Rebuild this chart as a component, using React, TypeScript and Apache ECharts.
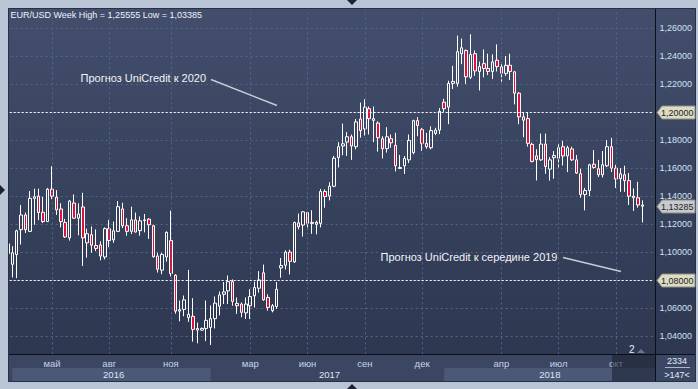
import React, { useEffect, useRef } from 'react';
import * as echarts from 'echarts';

// Weekly EUR/USD candles (open, close, low, high)
const OPEN = [
  1.0990, 1.0914, 1.0984, 1.1161, 1.1266, 1.1149, 1.1384, 1.1400, 1.1285, 1.1219,
  1.1450, 1.1393, 1.1309, 1.1212, 1.1102, 1.1351, 1.1243, 1.1323, 1.1067, 1.1125,
  1.1048, 1.1052, 1.0966, 1.1168, 1.1088, 1.1149, 1.1309, 1.1189, 1.1149, 1.1231,
  1.1154, 1.1226, 1.1236, 1.1189, 1.0973, 1.0872, 1.0966, 1.1083, 1.0836, 1.0580,
  1.0592, 1.0533, 1.0543, 1.0444, 1.0444, 1.0456, 1.0463, 1.0526, 1.0615, 1.0700,
  1.0724, 1.0790, 1.0635, 1.0630, 1.0567, 1.0618, 1.0689, 1.0743, 1.0853, 1.0677,
  1.0583, 1.0613, 1.0888, 1.0907, 1.1001, 1.0931, 1.1210, 1.1194, 1.1283, 1.1206,
  1.1213, 1.1206, 1.1434, 1.1401, 1.1471, 1.1676, 1.1758, 1.1786, 1.1824, 1.1753,
  1.1951, 1.1880, 1.2024, 1.1941, 1.1922, 1.1810, 1.1739, 1.1810, 1.1763, 1.1598,
  1.1617, 1.1659, 1.1711, 1.1939, 1.1875, 1.1777, 1.1746, 1.1848, 1.1872, 1.2071,
  1.2036, 1.2205, 1.2205, 1.2417, 1.2440, 1.2248, 1.2417, 1.2290, 1.2346, 1.2311,
  1.2290, 1.2370, 1.2323, 1.2276, 1.2334, 1.2287, 1.2135, 1.1966, 1.1954, 1.1770,
  1.1688, 1.1659, 1.1772, 1.1593, 1.1675, 1.1671, 1.1753, 1.1687, 1.1737, 1.1659,
  1.1560, 1.1412, 1.1440, 1.1628, 1.1596, 1.1553, 1.1617, 1.1753, 1.1600, 1.1525,
  1.1553, 1.1511, 1.1400, 1.1389, 1.1337,
];
const CLOSE = [
  1.1060, 1.0996, 1.1153, 1.1266, 1.1161, 1.1384, 1.1396, 1.1283, 1.1219, 1.1450,
  1.1400, 1.1302, 1.1219, 1.1109, 1.1365, 1.1243, 1.1273, 1.1102, 1.1132, 1.1050,
  1.1027, 1.0973, 1.1168, 1.1083, 1.1153, 1.1325, 1.1189, 1.1149, 1.1231, 1.1144,
  1.1224, 1.1231, 1.1196, 1.0968, 1.0879, 1.0984, 1.1142, 1.0848, 1.0580, 1.0590,
  1.0660, 1.0557, 1.0449, 1.0456, 1.0456, 1.0514, 1.0526, 1.0637, 1.0695, 1.0717,
  1.0790, 1.0649, 1.0618, 1.0571, 1.0630, 1.0684, 1.0748, 1.0802, 1.0660, 1.0606,
  1.0618, 1.0736, 1.0905, 1.1001, 1.0935, 1.1213, 1.1182, 1.1288, 1.1206, 1.1213,
  1.1199, 1.1434, 1.1398, 1.1471, 1.1671, 1.1753, 1.1774, 1.1824, 1.1758, 1.1930,
  1.1868, 1.2035, 1.1953, 1.1953, 1.1817, 1.1739, 1.1824, 1.1781, 1.1617, 1.1605,
  1.1669, 1.1798, 1.1939, 1.1904, 1.1777, 1.1753, 1.1868, 1.1872, 1.2006, 1.2024,
  1.2205, 1.2219, 1.2431, 1.2459, 1.2252, 1.2412, 1.2294, 1.2325, 1.2311, 1.2290,
  1.2358, 1.2325, 1.2278, 1.2334, 1.2290, 1.2135, 1.1966, 1.1942, 1.1777, 1.1648,
  1.1660, 1.1772, 1.1612, 1.1659, 1.1690, 1.1746, 1.1687, 1.1746, 1.1659, 1.1565,
  1.1412, 1.1440, 1.1624, 1.1605, 1.1553, 1.1624, 1.1753, 1.1600, 1.1523, 1.1560,
  1.1511, 1.1400, 1.1389, 1.1337, 1.13285,
];
const LOW = [
  1.0925, 1.0820, 1.0815, 1.1055, 1.1137, 1.1144, 1.1196, 1.1229, 1.1208, 1.1215,
  1.1379, 1.1266, 1.1177, 1.1102, 1.1083, 1.1238, 1.1121, 1.0902, 1.0961, 1.0996,
  1.1008, 1.0942, 1.0949, 1.1036, 1.1067, 1.1144, 1.1172, 1.1118, 1.1130, 1.1142,
  1.1118, 1.1142, 1.1095, 1.0961, 1.0855, 1.0843, 1.0933, 1.0827, 1.0561, 1.0507,
  1.0543, 1.0503, 1.0362, 1.0350, 1.0440, 1.0366, 1.03385, 1.0456, 1.0550, 1.0630,
  1.0630, 1.0618, 1.0560, 1.0536, 1.0524, 1.0524, 1.0606, 1.0712, 1.0653, 1.0583,
  1.0571, 1.0595, 1.0818, 1.0877, 1.0841, 1.0924, 1.1163, 1.1112, 1.1163, 1.1131,
  1.1128, 1.1177, 1.1318, 1.1370, 1.1464, 1.1605, 1.1692, 1.1687, 1.1659, 1.1734,
  1.1817, 1.1833, 1.1840, 1.1786, 1.1718, 1.1669, 1.1711, 1.1746, 1.1577, 1.1593,
  1.1558, 1.1636, 1.1699, 1.1828, 1.1723, 1.1739, 1.1734, 1.1836, 1.1843, 1.2001,
  1.1914, 1.2165, 1.2182, 1.2342, 1.2200, 1.2236, 1.2259, 1.2154, 1.2248, 1.2264,
  1.2236, 1.2290, 1.2217, 1.2259, 1.2229, 1.2055, 1.1914, 1.1820, 1.1754, 1.1641,
  1.1512, 1.1652, 1.1560, 1.1511, 1.1525, 1.1600, 1.1619, 1.1572, 1.1652, 1.1558,
  1.1389, 1.1299, 1.1400, 1.1596, 1.1537, 1.1534, 1.1607, 1.1572, 1.1459, 1.1431,
  1.1431, 1.1337, 1.1295, 1.1318, 1.1213,
];
const HIGH = [
  1.1115, 1.1043, 1.1161, 1.1337, 1.1283, 1.1436, 1.1454, 1.1454, 1.1396, 1.1459,
  1.1614, 1.1443, 1.1349, 1.1238, 1.1372, 1.1412, 1.1349, 1.1424, 1.1168, 1.1184,
  1.1163, 1.1078, 1.1177, 1.1231, 1.1219, 1.1365, 1.1353, 1.1243, 1.1325, 1.1283,
  1.1255, 1.1273, 1.1243, 1.1196, 1.0996, 1.0996, 1.1149, 1.1297, 1.0843, 1.0655,
  1.0691, 1.0874, 1.0672, 1.0498, 1.0463, 1.0655, 1.0620, 1.0684, 1.0719, 1.0787,
  1.0834, 1.0806, 1.0677, 1.0642, 1.0677, 1.0736, 1.0790, 1.0865, 1.0912, 1.0700,
  1.0630, 1.0787, 1.0959, 1.1013, 1.1018, 1.1217, 1.1276, 1.1293, 1.1288, 1.1300,
  1.1225, 1.1452, 1.1448, 1.1500, 1.1687, 1.1786, 1.1918, 1.1857, 1.1840, 1.1951,
  1.2068, 1.2092, 1.2040, 1.2040, 1.1934, 1.1828, 1.1892, 1.1840, 1.1852, 1.1694,
  1.1687, 1.1840, 1.1946, 1.1965, 1.1887, 1.1852, 1.1899, 1.1888, 1.2029, 1.2095,
  1.2224, 1.2330, 1.2546, 1.2525, 1.2447, 1.25555, 1.2440, 1.2360, 1.2447, 1.2417,
  1.2412, 1.2483, 1.2353, 1.2400, 1.2417, 1.2294, 1.2142, 1.2001, 1.2001, 1.1782,
  1.1735, 1.1847, 1.1847, 1.1678, 1.1722, 1.1777, 1.1795, 1.1760, 1.1753, 1.1694,
  1.1596, 1.1459, 1.1631, 1.1729, 1.1659, 1.1722, 1.1800, 1.1816, 1.1624, 1.1600,
  1.1617, 1.1565, 1.1455, 1.1502, 1.1370,
];

const EMPTY_SLOTS = 2; // free weeks on the right of the last candle
const MONTH_TICK_INDEX = [10, 23, 37, 55, 68, 81, 94, 112, 125, 138];
const MONTH_TICK_LABEL = ['май', 'авг', 'ноя', 'мар', 'июн', 'сен', 'дек', 'апр', 'июл', 'окт'];
const YEAR_LABEL_INDEX = [24, 73, 123];
const YEAR_LABEL = ['2016', '2017', '2018'];
const YEAR_BANDS = [[1, 46], [99, -1]];
const TARGET_LEVELS = [1.2, 1.08];
const ANNOTATION_TEXT = ['Прогноз UniCredit к 2020', 'Прогноз UniCredit к середине 2019'];
const FOOTER_TOP = '2334';
const FOOTER_BOTTOM = '>147<';
const PAGE_MARK = '2';

const FONT = '"Liberation Sans", Arial, sans-serif';
const fmt = (v: number) => v.toFixed(5).replace('.', ',');

export default function App() {
  const ref = useRef<HTMLDivElement>(null);
  useEffect(() => {
    if (!ref.current) return;
    const chart = echarts.init(ref.current, undefined, { renderer: 'svg' });
    const N = OPEN.length + EMPTY_SLOTS;
    const BAR = 4.406;
    const gridLeft = 5.7;
    const gridWidth = N * BAR;
    const cats = Array.from({ length: N }, (_, i) => String(i));
    const candles = OPEN.map((o, i) => [o, CLOSE[i], LOW[i], HIGH[i]]);
    const hi = Math.max(...HIGH);
    const lo = Math.min(...LOW);
    const last = CLOSE[CLOSE.length - 1];

    chart.setOption({
      animation: false,
      backgroundColor: '#b9c4d4',
      textStyle: { fontFamily: FONT },
      grid: [
        { left: gridLeft, top: -3.27, width: gridWidth, height: 367.6, show: false },
        { left: gridLeft, top: 348, width: gridWidth, height: 8, show: false },
      ],
      xAxis: [
        { type: 'category', gridIndex: 0, data: cats, show: false, boundaryGap: true },
        {
          type: 'category', gridIndex: 1, data: cats, position: 'bottom', z: 10,
          axisLine: { show: false }, axisTick: { show: false }, splitLine: { show: false },
          axisLabel: {
            interval: (i: number) => MONTH_TICK_INDEX.includes(i),
            formatter: (_v: string, i: number) => MONTH_TICK_LABEL[MONTH_TICK_INDEX.indexOf(i)] ?? '',
            color: '#c6d3ea', fontSize: 9.5, margin: 2, fontFamily: FONT,
          },
        },
        {
          type: 'category', gridIndex: 1, data: cats, position: 'bottom', offset: 11, z: 10,
          axisLine: { show: false }, axisTick: { show: false }, splitLine: { show: false },
          axisLabel: {
            interval: (i: number) => YEAR_LABEL_INDEX.includes(i),
            formatter: (_v: string, i: number) => YEAR_LABEL[YEAR_LABEL_INDEX.indexOf(i)] ?? '',
            color: '#dde6f4', fontSize: 9.5, margin: 2, fontFamily: FONT,
          },
        },
      ],
      yAxis: [
        {
          type: 'value', gridIndex: 0, position: 'right', min: 1.02, max: 1.28, interval: 0.02,
          axisLine: { show: false }, axisTick: { show: false },
          axisLabel: {
            margin: 6, color: '#d4e0f4', fontSize: 9, fontFamily: FONT,
            formatter: (v: number) =>
              v < 1.035 || v > 1.265 || TARGET_LEVELS.some((t) => Math.abs(t - v) < 1e-6) ? '' : fmt(v),
          },
          splitLine: { show: true, lineStyle: { color: '#56648a', type: [2, 3], width: 1 } },
        },
        { type: 'value', gridIndex: 1, show: false },
      ],
      series: [
        {
          type: 'line', xAxisIndex: 0, yAxisIndex: 0, data: [], z: 1, silent: true,
          markLine: {
            silent: true, symbol: ['none', 'none'], label: { show: false },
            lineStyle: { color: '#56648a', type: [2, 3], width: 1 },
            data: MONTH_TICK_INDEX.map((i) => ({ xAxis: i })),
          },
        },
        {
          type: 'candlestick', xAxisIndex: 0, yAxisIndex: 0, data: candles, barWidth: 3, z: 2,
          itemStyle: {
            color: 'rgba(0,0,0,0)', color0: '#e0103a',
            borderColor: '#ffffff', borderColor0: '#ffffff', borderWidth: 1,
          },
          markLine: {
            silent: true, symbol: ['none', 'none'], label: { show: false },
            lineStyle: { color: '#ffffff', type: [2, 2], width: 1 },
            data: TARGET_LEVELS.map((v) => ({ yAxis: v })),
          },
        },
      ],
    });

    const px = (i: number) => chart.convertToPixel({ xAxisIndex: 0 }, i) as number;
    const py = (v: number) => chart.convertToPixel({ yAxisIndex: 0 }, v) as number;
    const FRAME = '#b9c4d4';
    const g: any[] = [];
    g.push({
      type: 'rect', z: -1, silent: true, shape: { x: 8, y: 8, width: 688, height: 347 },
      style: {
        fill: new echarts.graphic.LinearGradient(0, 0, 0, 1, [
          { offset: 0, color: '#424e6c' },
          { offset: 1, color: '#2d3750' },
        ]),
      },
    });
    // frame strips
    g.push({ type: 'rect', z: 5, silent: true, shape: { x: 0, y: 0, width: 8, height: 389 }, style: { fill: FRAME } });
    g.push({ type: 'rect', z: 5, silent: true, shape: { x: 0, y: 0, width: 698, height: 8 }, style: { fill: FRAME } });
    g.push({ type: 'rect', z: 5, silent: true, shape: { x: 696, y: 0, width: 2, height: 389 }, style: { fill: FRAME } });
    g.push({ type: 'rect', z: 5, silent: true, shape: { x: 0, y: 382, width: 698, height: 7 }, style: { fill: FRAME } });
    // bottom panel
    g.push({ type: 'rect', z: 5, silent: true, shape: { x: 8, y: 355, width: 688, height: 27 }, style: { fill: '#3b4762' } });
    YEAR_BANDS.forEach(([a, b]) => {
      const x1 = px(a);
      const x2 = b < 0 ? 655.5 : px(b);
      g.push({ type: 'rect', z: 6, silent: true, shape: { x: x1, y: 368, width: x2 - x1, height: 13 }, style: { fill: '#4b5977' } });
    });
    g.push({ type: 'rect', z: 12, silent: true, shape: { x: 612, y: 355, width: 43.5, height: 27 }, style: { fill: 'rgba(24,30,46,0.55)' } });
    g.push({ type: 'text', z: 14, x: 629, y: 349, silent: true, style: { text: PAGE_MARK, fill: '#e8eef8', fontSize: 10, fontFamily: FONT, verticalAlign: 'middle' } });
    g.push({ type: 'polygon', z: 14, silent: true, shape: { points: [[637, 353], [641, 349], [645, 353]] }, style: { fill: '#6a7590' } });
    // separators
    g.push({ type: 'line', z: 13, silent: true, shape: { x1: 8, y1: 354.5, x2: 696, y2: 354.5 }, style: { stroke: '#0c0f18', lineWidth: 1 } });
    g.push({ type: 'line', z: 13, silent: true, shape: { x1: 655.5, y1: 8, x2: 655.5, y2: 382 }, style: { stroke: '#0c0f18', lineWidth: 1 } });
    g.push({ type: 'rect', z: 13, silent: true, shape: { x: 8.5, y: 8.5, width: 687, height: 373 }, style: { fill: 'none', stroke: '#27304a', lineWidth: 1 } });
    // footer counters
    g.push({ type: 'text', z: 14, x: 677, y: 361, silent: true, style: { text: FOOTER_TOP, fill: '#e4ecf8', fontSize: 9, fontFamily: FONT, align: 'center', verticalAlign: 'middle' } });
    g.push({ type: 'line', z: 14, silent: true, shape: { x1: 665, y1: 367.5, x2: 690, y2: 367.5 }, style: { stroke: '#aab6cc', lineWidth: 1 } });
    g.push({ type: 'text', z: 14, x: 677, y: 375, silent: true, style: { text: FOOTER_BOTTOM, fill: '#e4ecf8', fontSize: 9, fontFamily: FONT, align: 'center', verticalAlign: 'middle' } });
    // price tags
    const tag = (v: number, fill: string) => {
      const y = Math.round(py(v)) + 0.5;
      g.push({
        type: 'polygon', z: 14, silent: true,
        shape: { points: [[657, y], [662, y - 6.5], [695, y - 6.5], [695, y + 6.5], [662, y + 6.5]] },
        style: { fill, stroke: '#8e8e80', lineWidth: 1 },
      });
      g.push({ type: 'text', z: 15, x: 661, y, silent: true, style: { text: fmt(v), fill: '#1e1e1e', fontSize: 9, fontFamily: FONT, verticalAlign: 'middle' } });
    };
    TARGET_LEVELS.forEach((v) => tag(v, '#dcdcc4'));
    tag(last, '#c6cace');
    // header
    g.push({
      type: 'text', z: 14, x: 10.5, y: 14.5, silent: true,
      style: { text: `EUR/USD Week High = ${fmt(hi)} Low = ${fmt(lo)}`, fill: '#eef2fa', fontSize: 9, fontFamily: FONT, verticalAlign: 'middle' },
    });
    // annotations
    g.push({ type: 'text', z: 14, x: 80.5, y: 78, silent: true, style: { text: ANNOTATION_TEXT[0], fill: '#f2f4f8', fontSize: 11, fontFamily: FONT, verticalAlign: 'middle' } });
    g.push({ type: 'line', z: 14, silent: true, shape: { x1: 211, y1: 79.5, x2: 277, y2: 105.5 }, style: { stroke: '#c8ccd8', lineWidth: 1.4 } });
    g.push({ type: 'text', z: 14, x: 380.5, y: 257, silent: true, style: { text: ANNOTATION_TEXT[1], fill: '#f2f4f8', fontSize: 11, fontFamily: FONT, verticalAlign: 'middle' } });
    g.push({ type: 'line', z: 14, silent: true, shape: { x1: 563, y1: 257.5, x2: 621, y2: 271.5 }, style: { stroke: '#c8ccd8', lineWidth: 1.4 } });
    // frame arrows
    g.push({ type: 'polygon', z: 14, silent: true, shape: { points: [[347, 0], [357, 0], [352, 5]] }, style: { fill: '#1c2230' } });
    g.push({ type: 'polygon', z: 14, silent: true, shape: { points: [[0, 185], [0, 195], [5, 190]] }, style: { fill: '#1c2230' } });
    g.push({ type: 'polygon', z: 14, silent: true, shape: { points: [[347, 389], [357, 389], [352, 384]] }, style: { fill: '#1c2230' } });

    chart.setOption({ graphic: g });
    return () => chart.dispose();
  }, []);
  return <div ref={ref} style={{ position: 'fixed', left: 0, top: 0, width: 698, height: 389 }} />;
}
